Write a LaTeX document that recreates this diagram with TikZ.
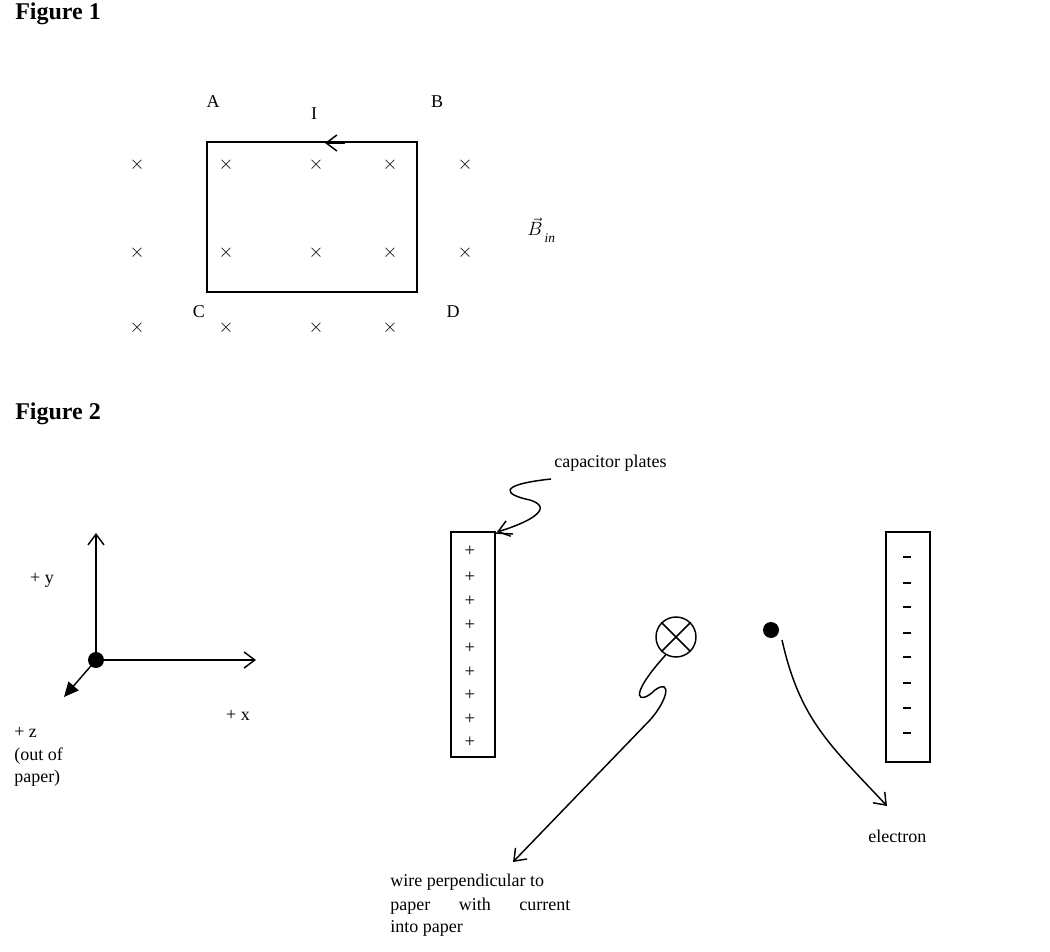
\documentclass[tikz,border=0pt]{standalone}
\usepackage{fontspec}
\setmainfont{Liberation Serif}
\usetikzlibrary{arrows.meta}
\begin{document}
\begin{tikzpicture}[x=0.75pt,y=-0.75pt,
  txt/.style={inner sep=0pt,font=\fontsize{13.5}{16}\selectfont},
  ttl/.style={inner sep=0pt,anchor=west,font=\fontsize{18}{20}\selectfont\bfseries},
  line/.style={line width=1.1pt},
  cross/.style={inner sep=0pt,font=\fontsize{14}{14}\selectfont},
  open/.style={-{Straight Barb[length=8pt,width=12pt]}},
  pm/.style={inner sep=0pt,font=\fontsize{14}{14}\selectfont}]
\useasboundingbox (0,0) rectangle (1050,952);
\node[ttl] (f1) at (15,14) {Figure 1};
\node[ttl] (f2) at (15,414) {Figure 2};
% Figure 1
\draw[line] (207,142) rectangle (417,292);
\coordinate (i1) at (345,143); \coordinate (i2) at (325,143);
\draw[line,open] (i1) -- (i2);
\node[txt] (A) at (213,102) {A};
\node[txt] (B) at (437,102) {B};
\node[txt] (I) at (314,114) {I};
\node[txt] (C) at (199,312) {C};
\node[txt] (D) at (453,312) {D};
\node[txt,anchor=west] (Bin) at (527,230) {$\vec{B}$\raisebox{-5pt}{\fontsize{10}{10}\selectfont\itshape\,in}};
\foreach \x in {137,226,316,390,465}{
  \node[cross] at (\x,165) {$\times$};
  \node[cross] at (\x,253) {$\times$};}
\foreach \x in {137,226,316,390}{\node[cross] at (\x,328) {$\times$};}
% axes
\fill (96,660) circle (8);
\node[inner sep=0pt] (O) at (96,660) {};
\coordinate (ytip) at (96,533);
\coordinate (xtip) at (256,660);
\coordinate (ztip) at (64,697);
\draw[line,open] (O.center) -- (ytip);
\draw[line,open] (O.center) -- (xtip);
\draw[line,-{Triangle[length=11pt,width=10pt]}] (O.center) -- (ztip);
\node[txt] (ly) at (42,580) {+ y};
\node[txt] (lx) at (238,715) {+ x};
\node[txt,anchor=west] (lz) at (14,732) {+ z};
\node[txt,anchor=west] (lz2) at (14,756) {(out of};
\node[txt,anchor=west] (lz3) at (14,778) {paper)};
% plates
\draw[line] (451,532) rectangle (495,757);
\draw[line] (495,533) -- (513,534);
\foreach \y in {551,577,601,625,648,672,695,719,742}{\node[pm] at (470,\y) {+};}
\draw[line] (886,532) rectangle (930,762);
\foreach \y in {557,583,607,633,657,683,708,733}{\draw[line width=0.8pt] (903,\y) -- (911,\y);}
% capacitor label
\node[txt,anchor=west] (cap) at (554,463) {capacitor plates};
\coordinate (capt) at (497,532);
\draw[line,open] (551,479) .. controls (495,485) and (505,495) .. (530,500) .. controls (555,508) and (530,522) .. (capt);
% wire
\node[draw,line width=1.1pt,circle,minimum size=30pt,inner sep=0pt] (w) at (676,637) {};
\draw[line] (w.north west) -- (w.south east) (w.north east) -- (w.south west);
\coordinate (wt) at (513,862);
\draw[line,open] (w.240) .. controls (625,700) and (640,705) .. (655,690) .. controls (672,678) and (668,700) .. (650,720) -- (wt);
\node[txt,anchor=west] (wl1) at (390,882) {wire perpendicular to};
\node[txt,anchor=west] (wl2) at (390,906) {\makebox[135pt][s]{paper\hfill with\hfill current}};
\node[txt,anchor=west] (wl3) at (390,928) {into paper};
% electron
\fill (771,630) circle (8);
\node[inner sep=0pt] (e) at (771,630) {};
\coordinate (et) at (887,806);
\draw[line,open] (782,640) .. controls (800,720) and (830,745) .. (et);
\node[txt,anchor=west] (el) at (868,836) {electron};
\end{tikzpicture}
\end{document}
